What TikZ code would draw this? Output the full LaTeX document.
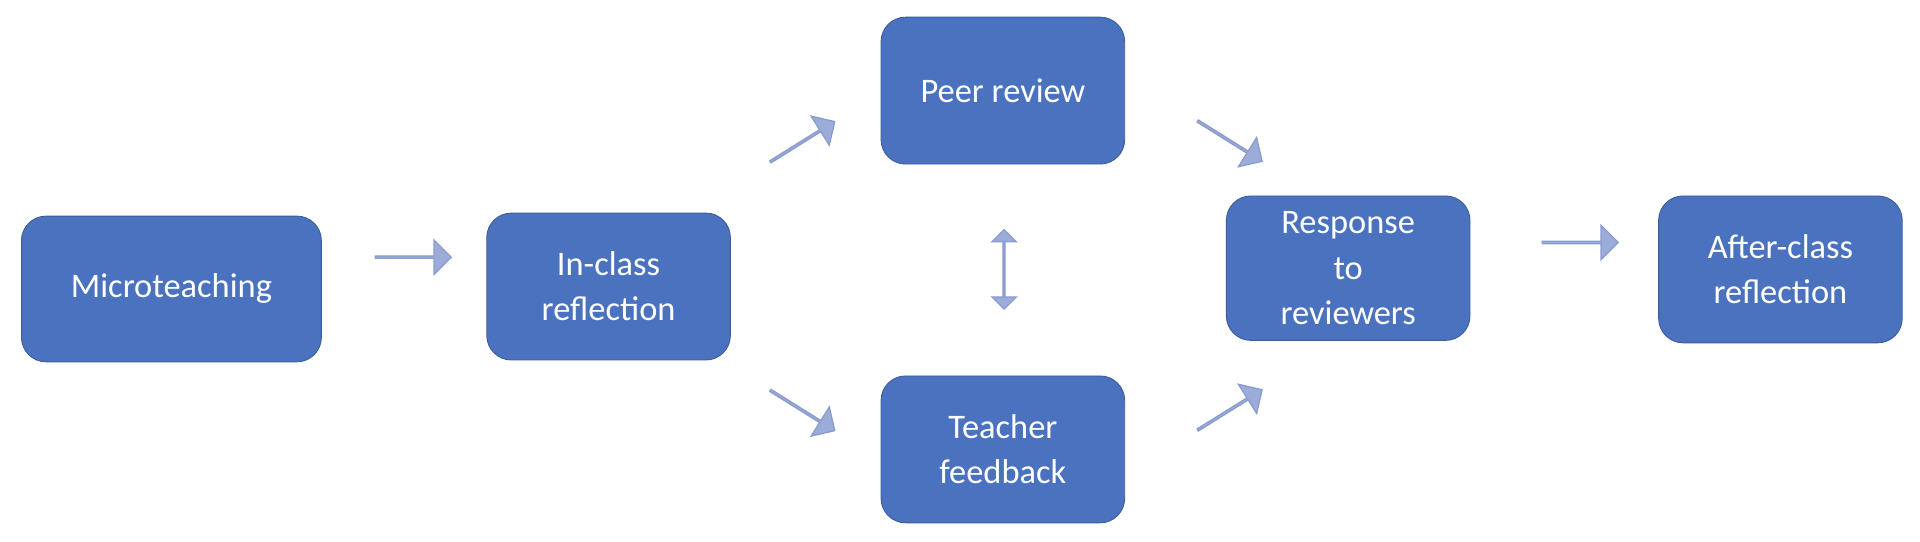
\documentclass[tikz,border=0pt]{standalone}
\usepackage{fontspec}
\setmainfont{Carlito}
\usetikzlibrary{shapes.arrows}
\definecolor{boxblue}{HTML}{4A72BE}
\definecolor{boxline}{HTML}{3A5C9C}
\definecolor{arrblue}{HTML}{9CACD9}
\definecolor{arrline}{HTML}{8A9BCF}
\begin{document}
\begin{tikzpicture}[x=0.02cm,y=-0.02cm,
  stage/.style={draw=boxline,fill=boxblue,rounded corners=0.4cm,text=white,
    align=center,font=\fontsize{16}{21}\selectfont,inner sep=0pt,
    minimum width=3.98cm,minimum height=2.4cm},
  flow/.style={single arrow,draw=arrline,fill=arrblue,line width=0.6pt,
    minimum width=0.56cm,minimum height=1.24cm,single arrow head extend=0.14cm,
    single arrow tip angle=90,inner sep=0pt},
  both/.style={double arrow,draw=arrline,fill=arrblue,line width=0.6pt,
    minimum width=0.4cm,minimum height=1.3cm,double arrow head extend=0.12cm,
    inner sep=0pt}]

\useasboundingbox (0,0) rectangle (1568,442);

\node[stage,minimum width=4.9cm,minimum height=2.38cm](micro) at (140,236){Microteaching};
\node[stage](inclass) at (497,234){In-class\\reflection};
\node[stage](peer) at (819,74){Peer review};
\node[stage](teacher) at (819,367){Teacher\\feedback};
\node[stage,minimum height=2.36cm](response) at (1101,219){Response\\to\\reviewers};
\node[stage](after) at (1454,220){After-class\\reflection};

\node[flow](a1) at (337,210){};
\node[flow](a2) at (1290,198){};
\node[flow,rotate=32](a3) at (655,116){};
\node[flow,rotate=-32](a4) at (655,335){};
\node[flow,rotate=-32](a5) at (1004,115){};
\node[flow,rotate=32](a6) at (1004,335){};
\node[both,rotate=90](a7) at (820,220){};

\end{tikzpicture}
\end{document}
